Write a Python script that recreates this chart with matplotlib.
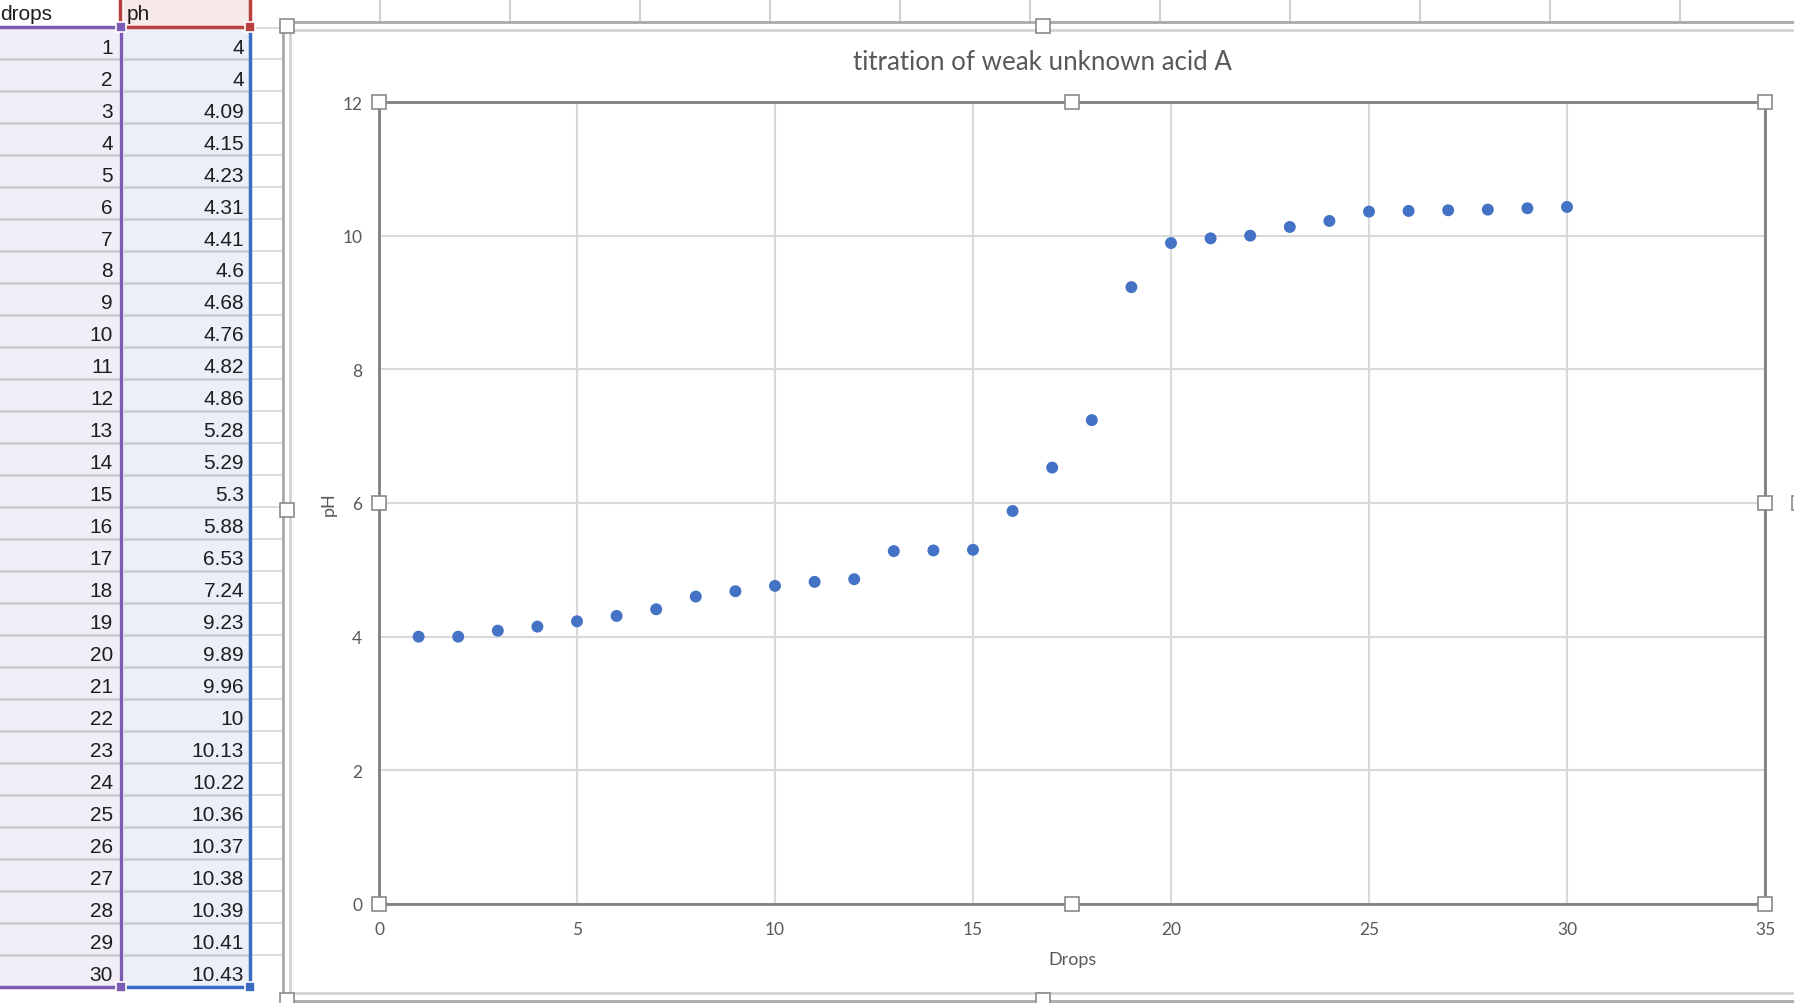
import matplotlib
matplotlib.use("Agg")
import matplotlib.pyplot as plt
from matplotlib.patches import Rectangle
from matplotlib.lines import Line2D

# ---- data ----
drops = list(range(1, 31))
ph = [4, 4, 4.09, 4.15, 4.23, 4.31, 4.41, 4.6, 4.68, 4.76, 4.82, 4.86, 5.28, 5.29, 5.3,
      5.88, 6.53, 7.24, 9.23, 9.89, 9.96, 10, 10.13, 10.22, 10.36, 10.37, 10.38, 10.39, 10.41, 10.43]
ph_text = ["4", "4", "4.09", "4.15", "4.23", "4.31", "4.41", "4.6", "4.68", "4.76", "4.82", "4.86",
           "5.28", "5.29", "5.3", "5.88", "6.53", "7.24", "9.23", "9.89", "9.96", "10", "10.13",
           "10.22", "10.36", "10.37", "10.38", "10.39", "10.41", "10.43"]
col_headers = ["drops", "ph"]
title = "titration of weak unknown acid A"
xlabel = "Drops"
ylabel = "pH"
xticks = [0, 5, 10, 15, 20, 25, 30, 35]
yticks = [0, 2, 4, 6, 8, 10, 12]

W, H = 1794, 1004
fig = plt.figure(figsize=(W / 100, H / 100), dpi=100)
fig.patch.set_facecolor("white")

# ---- background spreadsheet layer (pixel coordinates) ----
bg = fig.add_axes([0, 0, 1, 1], zorder=0)
bg.set_xlim(0, W)
bg.set_ylim(H, 0)
bg.axis("off")

hdr_b = 28
row_h = 32
n = len(drops)
bottom = hdr_b + row_h * n
grid_c = "#C9C9CE"

# column fills
bg.add_patch(Rectangle((0, hdr_b), 119, bottom - hdr_b, facecolor="#F1EEF8", edgecolor="none"))
bg.add_patch(Rectangle((124, hdr_b), 125, bottom - hdr_b, facecolor="#EAEFF8", edgecolor="none"))
bg.add_patch(Rectangle((124, 0), 125, hdr_b, facecolor="#F8E9E9", edgecolor="none"))

# row lines
for i in range(1, n):
    y = hdr_b + row_h * i
    bg.add_line(Line2D([0, 118], [y, y], color=grid_c, lw=1.8))
    bg.add_line(Line2D([125, 248], [y, y], color=grid_c, lw=1.8))
    bg.add_line(Line2D([253, 283], [y, y], color="#D4D4D4", lw=1.2))
bg.add_line(Line2D([253, 283], [hdr_b + 1, hdr_b + 1], color="#D4D4D4", lw=1.2))

# spreadsheet column lines above the chart
for x in range(380, 1794, 130):
    bg.add_line(Line2D([x, x], [0, 22], color="#D0D0D0", lw=1.5))

# selection borders
purple = "#7B5CB5"
red = "#B8403F"
blue = "#3A6CC4"
bg.add_line(Line2D([0, 120], [hdr_b, hdr_b], color=purple, lw=2.5))
bg.add_line(Line2D([121, 121], [hdr_b, bottom], color=purple, lw=2.5))
bg.add_line(Line2D([0, 120], [bottom, bottom], color=purple, lw=2.5))
bg.add_line(Line2D([124, 250], [hdr_b, hdr_b], color=red, lw=2.5))
bg.add_line(Line2D([120, 120], [0, hdr_b], color=red, lw=2.5))
bg.add_line(Line2D([250, 250], [0, hdr_b], color=red, lw=2.5))
bg.add_line(Line2D([250, 250], [hdr_b, bottom], color=blue, lw=2.5))
bg.add_line(Line2D([124, 250], [bottom, bottom], color=blue, lw=2.5))
for (cx, cy, c) in [(121, hdr_b, purple), (250, hdr_b, red), (121, bottom, purple), (250, bottom, blue)]:
    bg.add_patch(Rectangle((cx - 5, cy - 5), 10, 10, facecolor=c, edgecolor="white", lw=1.2, zorder=5))

# header and cell texts
cell_font = "Liberation Sans"
bg.text(0, 15, col_headers[0], fontsize=15, family=cell_font, color="#1E1E1E", ha="left", va="center")
bg.text(127, 15, col_headers[1], fontsize=15, family=cell_font, color="#1E1E1E", ha="left", va="center")
for i, (d, t) in enumerate(zip(drops, ph_text)):
    y = hdr_b + row_h * i + row_h / 2 + 4
    bg.text(113, y, str(d), fontsize=15, family=cell_font, color="#1E1E1E", ha="right", va="center")
    bg.text(244, y, t, fontsize=15, family=cell_font, color="#1E1E1E", ha="right", va="center")

# chart frame
bg.add_patch(Rectangle((284, 23), W - 284 + 10, 980, facecolor="white", edgecolor="none"))
bg.add_line(Line2D([283, 283], [23, H], color="#A9A9A9", lw=2))
bg.add_line(Line2D([283, W], [23, 23], color="#A9A9A9", lw=2))
bg.add_line(Line2D([283, W], [1002, 1002], color="#A9A9A9", lw=2))
bg.add_line(Line2D([290, 290], [31, 994], color="#D3D3D3", lw=2))
bg.add_line(Line2D([290, W], [31, 31], color="#D3D3D3", lw=2))
bg.add_line(Line2D([290, W], [994, 994], color="#D3D3D3", lw=2))

# chart title
chart_font = ["Lato", "DejaVu Sans"]
txt_c = "#595959"
bg.text(1042, 62, title, fontsize=18.6, family=chart_font, color=txt_c, ha="center", va="center")

# ---- main chart axes ----
L, R, T, B = 379, 1765, 103, 905
ax = fig.add_axes([L / W, 1 - B / H, (R - L) / W, (B - T) / H], zorder=1)
ax.patch.set_alpha(0)
ax.scatter(drops, ph, s=74, color="#4472C4", zorder=3, edgecolors="none")
ax.set_xlim(0, 35)
ax.set_ylim(0, 12)
ax.set_xticks(xticks)
ax.set_yticks(yticks)
ax.grid(True, color="#D9D9D9", lw=1.5, zorder=0)
ax.set_axisbelow(True)
for s in ax.spines.values():
    s.set_color("#7F7F7F")
    s.set_linewidth(2)
ax.tick_params(length=0, labelsize=12.5, labelcolor=txt_c, pad=12)
for lab in ax.get_xticklabels() + ax.get_yticklabels():
    lab.set_family(chart_font)
ax.set_xlabel(xlabel, fontsize=13, color=txt_c, family=chart_font, labelpad=10)
ax.set_ylabel(ylabel, fontsize=13, color=txt_c, family=chart_font, labelpad=4)

# ---- foreground handles ----
fg = fig.add_axes([0, 0, 1, 1], zorder=2)
fg.set_xlim(0, W)
fg.set_ylim(H, 0)
fg.axis("off")
fg.patch.set_alpha(0)
hs = 14
mx = (L + R) / 2
my = (T + B) / 2
handles = [(L, T), (mx, T), (R, T), (L, my), (R, my), (L, B), (mx, B), (R, B),
           (287, 27), (1043, 27), (287, 511), (287, 1001), (1043, 1001)]
for (hx, hy) in handles:
    fg.add_patch(Rectangle((hx - hs / 2, hy - hs / 2), hs, hs, facecolor="white",
                           edgecolor="#8A8A8A", lw=1.2, zorder=5))
fg.add_patch(Rectangle((W - 2, 504 - 7), 10, 14, facecolor="white", edgecolor="#8A8A8A", lw=1.2))

fig.savefig("out.png", dpi=100)
